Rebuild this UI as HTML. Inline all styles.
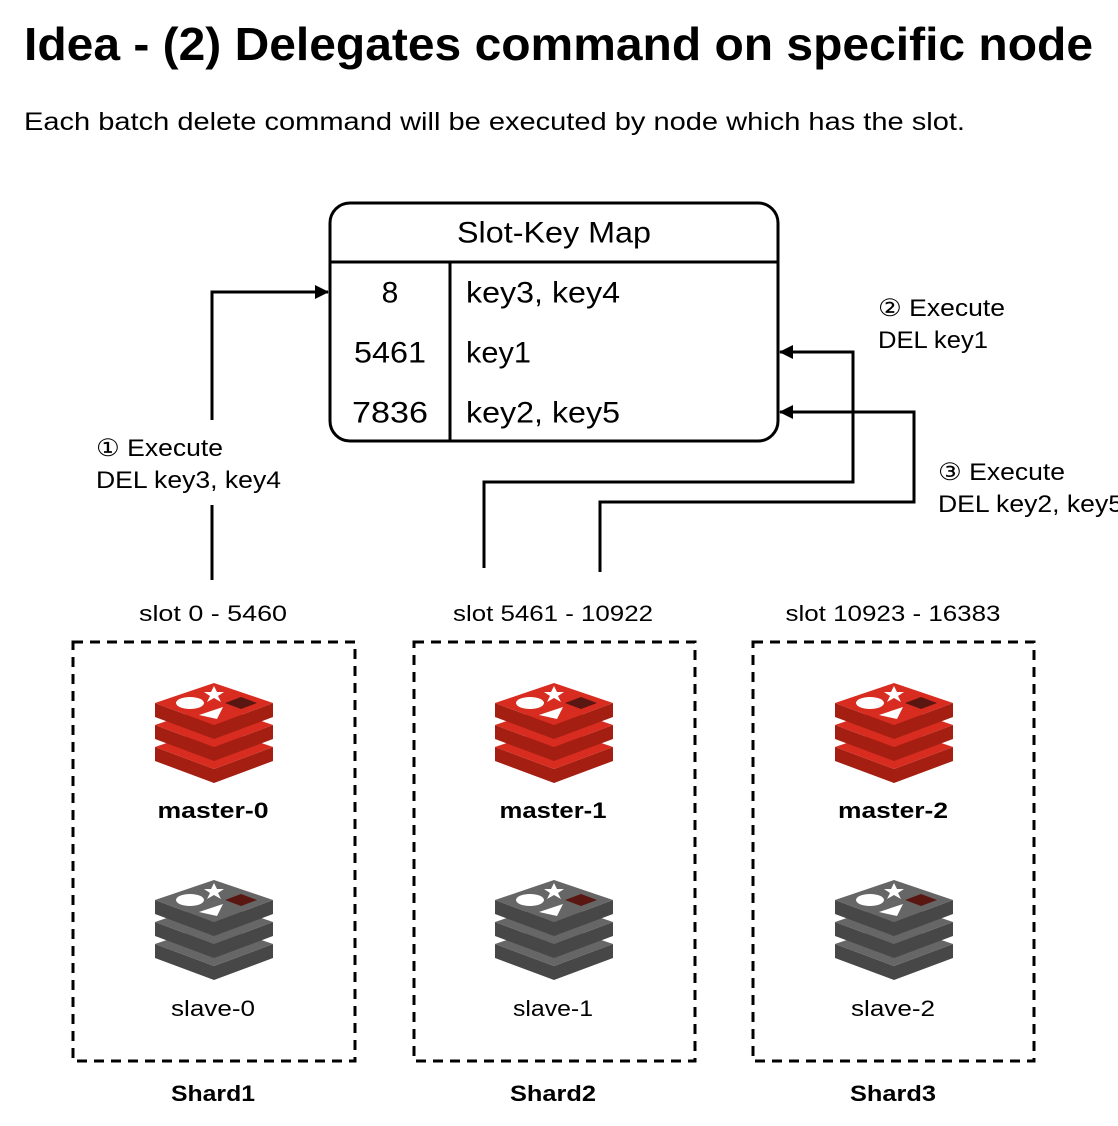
<!DOCTYPE html>
<html><head><meta charset="utf-8"><style>
html,body{margin:0;padding:0;background:#fff;}
svg{display:block;font-family:"Liberation Sans",sans-serif;}
</style></head><body>
<svg width="1118" height="1126" viewBox="0 0 1118 1126" xmlns="http://www.w3.org/2000/svg">
<defs>
<marker id="ah" markerWidth="14" markerHeight="14" refX="13" refY="7" orient="auto" markerUnits="userSpaceOnUse">
<path d="M0,0 L14,7 L0,14 z" fill="#000"/></marker>
<g id="slabR">
<polygon points="0,20 59,42 118,20 118,34 59,56 0,34" fill="#a41e11"/>
<polygon points="59,0 118,20 59,42 0,20" fill="#d82c20"/>
</g>
<g id="slabG">
<polygon points="0,20 59,42 118,20 118,34 59,56 0,34" fill="#474747"/>
<polygon points="59,0 118,20 59,42 0,20" fill="#666"/>
</g>
<g id="deco">
<ellipse cx="35" cy="20" rx="14" ry="6" fill="#fff"/>
<polygon points="59,3 62,9 69,9 63,13 66,19 59,15 52,19 55,13 49,9 56,9" fill="#fff"/>
<polygon points="44,32 68,24 62,36" fill="#fff"/>
<polygon points="70,20 86,14 102,20 86,26" fill="#5a1610"/>
</g>
<g id="redisR"><use href="#slabR" y="44"/><use href="#slabR" y="22"/><use href="#slabR"/><use href="#deco"/></g>
<g id="redisG"><use href="#slabG" y="44"/><use href="#slabG" y="22"/><use href="#slabG"/><use href="#deco"/></g>
</defs>

<text x="24" y="60" font-size="46" font-weight="bold" textLength="1069" lengthAdjust="spacingAndGlyphs">Idea - (2) Delegates command on specific node</text>
<text x="24" y="130" font-size="25" textLength="941" lengthAdjust="spacingAndGlyphs">Each batch delete command will be executed by node which has the slot.</text>

<rect x="330" y="203" width="448" height="238" rx="20" fill="#fff" stroke="#000" stroke-width="3"/>
<line x1="330" y1="262" x2="778" y2="262" stroke="#000" stroke-width="3"/>
<line x1="450" y1="262" x2="450" y2="441" stroke="#000" stroke-width="3"/>
<g font-size="30" dominant-baseline="central">
<text x="554" y="233" text-anchor="middle" textLength="194" lengthAdjust="spacingAndGlyphs">Slot-Key Map</text>
<text x="390" y="293" text-anchor="middle">8</text>
<text x="390" y="353" text-anchor="middle" textLength="72" lengthAdjust="spacingAndGlyphs">5461</text>
<text x="390" y="413" text-anchor="middle" textLength="76" lengthAdjust="spacingAndGlyphs">7836</text>
<text x="466" y="293" textLength="154" lengthAdjust="spacingAndGlyphs">key3, key4</text>
<text x="466" y="353" textLength="65" lengthAdjust="spacingAndGlyphs">key1</text>
<text x="466" y="413" textLength="154" lengthAdjust="spacingAndGlyphs">key2, key5</text>
</g>

<g fill="none" stroke="#000" stroke-width="3">
<polyline points="212,580 212,505"/>
<polyline points="212,420 212,292 328,292" marker-end="url(#ah)"/>
<polyline points="484,568 484,482 853,482 853,352 780,352" marker-end="url(#ah)"/>
<polyline points="600,572 600,502 914,502 914,412 780,412" marker-end="url(#ah)"/>
</g>
<g font-size="24">
<text x="96" y="456" textLength="127" lengthAdjust="spacingAndGlyphs">① Execute</text>
<text x="96" y="488" textLength="185" lengthAdjust="spacingAndGlyphs">DEL key3, key4</text>
<text x="878" y="316" textLength="127" lengthAdjust="spacingAndGlyphs">② Execute</text>
<text x="878" y="348" textLength="110" lengthAdjust="spacingAndGlyphs">DEL key1</text>
<text x="938" y="480" textLength="127" lengthAdjust="spacingAndGlyphs">③ Execute</text>
<text x="938" y="512" textLength="185" lengthAdjust="spacingAndGlyphs">DEL key2, key5</text>
</g>

<g fill="none" stroke="#000" stroke-width="3" stroke-dasharray="10 7">
<rect x="73" y="642" width="282" height="419"/>
<rect x="414" y="642" width="281" height="419"/>
<rect x="753" y="642" width="281" height="419"/>
</g>
<g font-size="22" text-anchor="middle">
<text x="213" y="621" textLength="148" lengthAdjust="spacingAndGlyphs">slot 0 - 5460</text>
<text x="553" y="621" textLength="200" lengthAdjust="spacingAndGlyphs">slot 5461 - 10922</text>
<text x="893" y="621" textLength="215" lengthAdjust="spacingAndGlyphs">slot 10923 - 16383</text>
<text x="213" y="1016" textLength="84" lengthAdjust="spacingAndGlyphs">slave-0</text>
<text x="553" y="1016" textLength="80" lengthAdjust="spacingAndGlyphs">slave-1</text>
<text x="893" y="1016" textLength="84" lengthAdjust="spacingAndGlyphs">slave-2</text>
<g font-weight="bold">
<text x="213" y="818" textLength="111" lengthAdjust="spacingAndGlyphs">master-0</text>
<text x="553" y="818" textLength="107" lengthAdjust="spacingAndGlyphs">master-1</text>
<text x="893" y="818" textLength="110" lengthAdjust="spacingAndGlyphs">master-2</text>
<text x="213" y="1101" textLength="84" lengthAdjust="spacingAndGlyphs">Shard1</text>
<text x="553" y="1101" textLength="86" lengthAdjust="spacingAndGlyphs">Shard2</text>
<text x="893" y="1101" textLength="86" lengthAdjust="spacingAndGlyphs">Shard3</text>
</g>
</g>
<use href="#redisR" x="155" y="683"/>
<use href="#redisR" x="495" y="683"/>
<use href="#redisR" x="835" y="683"/>
<use href="#redisG" x="155" y="880"/>
<use href="#redisG" x="495" y="880"/>
<use href="#redisG" x="835" y="880"/>
</svg>
</body></html>
